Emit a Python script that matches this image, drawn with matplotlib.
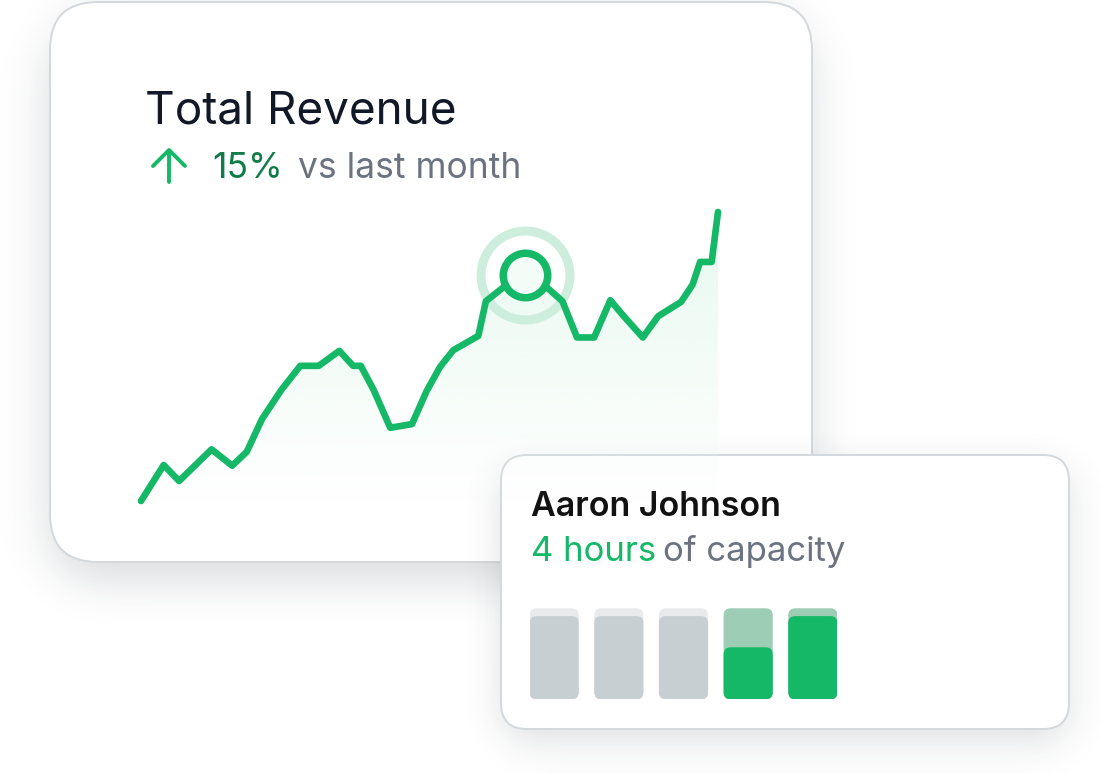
import numpy as np
import matplotlib.pyplot as plt
from matplotlib.patches import FancyBboxPatch, PathPatch
from matplotlib.path import Path
from matplotlib.colors import to_rgb

W, H = 1100, 773
plt.rcParams['font.family'] = ['Inter', 'DejaVu Sans']

# revenue over the month (day, revenue index)
days = [0, 1.18, 1.98, 3.67, 4.74, 5.5, 6.29, 7.29, 8.28, 9.24, 10.31, 11.03,
        11.43, 12.1, 12.96, 14.09, 14.85, 15.55, 16.24, 17.54, 17.93, 18.83,
        19.98, 21.11, 21.91, 22.67, 23.56, 24.4, 25.1, 26.09, 26.89, 28.08,
        28.68, 29.07, 29.67, 30.0]
revenue = [0, 3.6, 2.0, 5.17, 3.53, 4.93, 8.2, 11.1, 13.53, 13.53, 15.03, 13.53,
           13.53, 11.1, 7.33, 7.7, 11.0, 13.43, 15.1, 16.53, 20.0, 21.37,
           22.6, 21.37, 20.0, 16.37, 16.37, 20.1, 18.5, 16.37, 18.5, 19.93,
           21.67, 23.93, 23.93, 28.93]
highlight = 22
title = "Total Revenue"
change = "15%"
change_note = "vs last month"

# capacity card
person = "Aaron Johnson"
free_text = "4 hours"
free_note = "of capacity"
day_capacity = [8.75, 8.75, 8.75, 8.75, 8.75]
booked_hours = [8, 8, 8, 5, 8]
bar_colors = ['#c8cfd3', '#c8cfd3', '#c8cfd3', '#14b866', '#14b866']
track_colors = ['#e8eaec', '#e8eaec', '#e8eaec', '#9dcdb4', '#9dcdb4']

GREEN = '#14b866'

fig = plt.figure(figsize=(W / 100, H / 100), dpi=100)
bg = fig.add_axes([0, 0, 1, 1])
bg.set_xlim(0, W)
bg.set_ylim(H, 0)
bg.axis('off')


def rrect_mask(xx, yy, x0, y0, x1, y1, r):
    cx, cy = (x0 + x1) / 2, (y0 + y1) / 2
    dx = np.maximum(np.abs(xx - cx) - ((x1 - x0) / 2 - r), 0)
    dy = np.maximum(np.abs(yy - cy) - ((y1 - y0) / 2 - r), 0)
    return (np.hypot(dx, dy) <= r).astype(float)


def gauss_mat(n, sigma):
    i = np.arange(n)
    k = np.exp(-0.5 * ((i[:, None] - i[None, :]) / sigma) ** 2)
    return k / k.sum(axis=1, keepdims=True)


def shadow(x0, y0, x1, y1, r, dy, sigma, alpha, z):
    s = 4
    xs = np.arange(0, W, s) + s / 2
    ys = np.arange(0, H, s) + s / 2
    xx, yy = np.meshgrid(xs, ys)
    m = rrect_mask(xx, yy, x0, y0 + dy, x1, y1 + dy, r)
    m = gauss_mat(len(ys), sigma / s) @ m @ gauss_mat(len(xs), sigma / s).T
    img = np.zeros(m.shape + (4,))
    img[..., :3] = to_rgb('#1f2a37')
    img[..., 3] = m * alpha
    bg.imshow(img, extent=[0, W, H, 0], interpolation='bilinear', zorder=z)


def card(x0, y0, x1, y1, r, z):
    bg.add_patch(FancyBboxPatch((x0, y0), x1 - x0, y1 - y0,
                                boxstyle=f"round,pad=0,rounding_size={r}",
                                fc='white', ec='#d3d8dc', lw=1.4, zorder=z))


shadow(50, 2, 812, 562, 48, 22, 22, 0.16, 1)
card(50, 2, 812, 562, 48, 2)

bg.text(145, 124, title, fontsize=33, color='#111827', va='baseline', zorder=3)
bg.plot([169, 169], [182, 151], color=GREEN, lw=2.8, solid_capstyle='round', zorder=3)
bg.plot([153, 169, 185], [166, 150, 166], color=GREEN, lw=2.8,
        solid_capstyle='round', solid_joinstyle='round', zorder=3)
bg.text(212, 178, change, fontsize=25.5, color='#0f7c47', va='baseline', zorder=3)
bg.text(298, 178, change_note, fontsize=25.5, color='#6b7280', va='baseline', zorder=3)

# line chart
ax = fig.add_axes([141 / W, 1 - 501 / H, 577 / W, 289 / H])
ax.set_xlim(0, 30)
ax.set_ylim(0, 28.93)
ax.axis('off')
ax.set_zorder(3)
ax.patch.set_visible(False)

verts = [(days[0], -3)] + list(zip(days, revenue)) + [(days[-1], -3), (days[0], -3)]
clip = PathPatch(Path(verts), fc='none', ec='none', transform=ax.transData)
ax.add_patch(clip)
grad = np.zeros((200, 2, 4))
t = np.linspace(1, 0, 200)[:, None]
grad[..., :3] = to_rgb('#eafaf1')
grad[..., 3] = np.clip((t - 0.08) / 0.8, 0, 1) ** 1.1
im = ax.imshow(grad, extent=[0, 30, -3, 28.93], aspect='auto',
               interpolation='bilinear', zorder=1)
im.set_clip_path(clip)

ax.plot(days, revenue, color=GREEN, lw=4.8, solid_capstyle='round',
        solid_joinstyle='round', clip_on=False, zorder=2)
ax.plot(days[highlight], revenue[highlight], 'o', ms=64, mfc='none',
        mec='#cdeedd', mew=6.5, clip_on=False, zorder=1.5)
ax.plot(days[highlight], revenue[highlight], 'o', ms=32, mfc='#f4fcf8',
        mec=GREEN, mew=5.4, clip_on=False, zorder=3)

# capacity card
shadow(501, 455, 1069, 729, 26, 14, 18, 0.14, 4)
card(501, 455, 1069, 729, 26, 5)

bg.text(531, 516.5, person, fontsize=24.5, weight='semibold', color='#111111',
        va='baseline', zorder=6)
bg.text(531, 561, free_text, fontsize=25, color=GREEN, va='baseline', zorder=6)
bg.text(663, 561, free_note, fontsize=25, color='#6b7280', va='baseline', zorder=6)

bx = fig.add_axes([529.6 / W, 1 - 699.3 / H, 307.8 / W, 91 / H])
bx.set_xlim(-0.38, 4.38)
bx.set_ylim(0, 8.75)
bx.axis('off')
bx.set_zorder(6)
bx.patch.set_visible(False)
px_x = 307.8 / 4.76
px_y = 91 / 8.75
r_px = 7
for i in range(len(booked_hours)):
    for val, col in [(day_capacity[i], track_colors[i]), (booked_hours[i], bar_colors[i])]:
        bx.add_patch(FancyBboxPatch((i - 0.38, 0), 0.76, val,
                                    boxstyle=f"round,pad=0,rounding_size={r_px / px_x}",
                                    mutation_aspect=px_x / px_y,
                                    fc=col, ec='none'))

fig.savefig('out.png', dpi=100, facecolor='white')
